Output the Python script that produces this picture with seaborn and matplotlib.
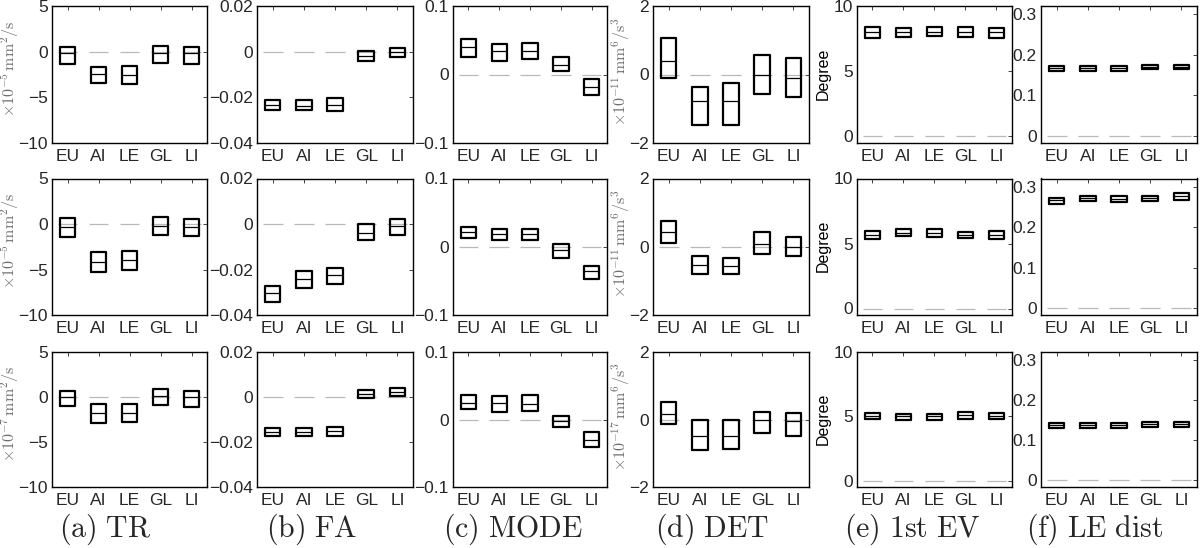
import numpy as np
import pandas as pd
import matplotlib
matplotlib.use("Agg")
import matplotlib.pyplot as plt
import seaborn as sns

# ---------------------------------------------------------
# Data: upper quartile / median /
# lower quartile, one list per row (3 rows x 5 methods)
# ---------------------------------------------------------
METHODS = ["EU", "AI", "LE", "GL", "LI"]

TR_HI = [[0.55, -1.65, -1.6, 0.65, 0.5],
         [0.7, -3.1, -2.95, 0.8, 0.6],
         [0.7, -0.8, -0.8, 0.85, 0.7]]
TR_MED = [[-0.2, -2.45, -2.5, -0.1, -0.2],
          [-0.3, -4.15, -3.95, -0.2, -0.3],
          [0.0, -1.8, -1.8, 0.1, 0.0]]
TR_LO = [[-1.35, -3.45, -3.5, -1.2, -1.35],
         [-1.4, -5.3, -5.05, -1.2, -1.3],
         [-1.0, -2.9, -2.8, -0.9, -1.1]]

FA_HI = [[-0.021, -0.021, -0.0205, 0.0004, 0.0015],
         [-0.0273, -0.0205, -0.0192, 0.0, 0.002],
         [-0.0139, -0.0139, -0.0134, 0.0031, 0.0041]]
FA_MED = [[-0.0235, -0.0238, -0.0235, -0.0019, 0.0],
          [-0.0302, -0.0243, -0.0224, -0.0038, -0.0007],
          [-0.0156, -0.0156, -0.0153, 0.0012, 0.0023]]
FA_LO = [[-0.0255, -0.0255, -0.0258, -0.0039, -0.0022],
         [-0.0343, -0.0283, -0.0265, -0.007, -0.0048],
         [-0.0174, -0.0174, -0.0174, -0.0006, 0.0004]]

MODE_HI = [[0.052, 0.0445, 0.0455, 0.025, -0.0066],
           [0.029, 0.026, 0.026, 0.004, -0.028],
           [0.0358, 0.0343, 0.0358, 0.0054, -0.019]]
MODE_MED = [[0.0406, 0.034, 0.0348, 0.0139, -0.0178],
            [0.0216, 0.0186, 0.0186, -0.0044, -0.036],
            [0.025, 0.025, 0.0235, -0.0025, -0.030]]
MODE_LO = [[0.026, 0.02, 0.0222, 0.005, -0.0304],
           [0.0127, 0.0093, 0.0093, -0.0167, -0.047],
           [0.0152, 0.0113, 0.0127, -0.0118, -0.041]]

DET_HI = [[1.06, -0.37, -0.26, 0.57, 0.47],
          [0.745, -0.265, -0.33, 0.43, 0.3],
          [0.52, 0.0, 0.0, 0.23, 0.2]]
DET_MED = [[0.40, -0.77, -0.77, 0.0, -0.11],
           [0.43, -0.53, -0.56, 0.08, -0.02],
           [0.15, -0.49, -0.49, -0.02, -0.04]]
DET_LO = [[-0.11, -1.48, -1.48, -0.58, -0.65],
          [0.108, -0.80, -0.80, -0.2, -0.265],
          [-0.12, -0.9, -0.88, -0.41, -0.48]]

EV_HI = [[8.37, 8.29, 8.37, 8.37, 8.3],
         [5.96, 6.15, 6.15, 5.87, 5.96],
         [5.24, 5.19, 5.19, 5.32, 5.27]]
EV_MED = [[7.98, 7.98, 8.03, 8.03, 7.98],
          [5.68, 5.82, 5.82, 5.68, 5.68],
          [5.05, 5.0, 5.0, 5.08, 5.05]]
EV_LO = [[7.52, 7.6, 7.7, 7.65, 7.52],
         [5.38, 5.55, 5.49, 5.41, 5.38],
         [4.81, 4.73, 4.73, 4.81, 4.81]]

LED_HI = [[0.173, 0.173, 0.173, 0.175, 0.175],
          [0.272, 0.278, 0.278, 0.278, 0.284],
          [0.143, 0.143, 0.143, 0.145, 0.145]]
LED_MED = [[0.167, 0.167, 0.167, 0.17, 0.17],
           [0.266, 0.272, 0.27, 0.272, 0.277],
           [0.138, 0.138, 0.138, 0.14, 0.14]]
LED_LO = [[0.16, 0.161, 0.161, 0.165, 0.165],
          [0.258, 0.264, 0.262, 0.264, 0.267],
          [0.131, 0.131, 0.131, 0.134, 0.134]]

CAPTIONS = ["(a)\\ TR", "(b)\\ FA", "(c)\\ MODE", "(d)\\ DET",
            "(e)\\ 1st\\ EV", "(f)\\ LE\\ dist"]

YTICKS = [[-10, -5, 0, 5],
          [-0.04, -0.02, 0, 0.02],
          [-0.1, 0, 0.1],
          [-2, 0, 2],
          [0, 5, 10],
          [0, 0.1, 0.2, 0.3]]
YLIMS = [(-10, 5), (-0.04, 0.02), (-0.1, 0.1), (-2, 2), (-0.5, 10), (-0.017, 0.32)]

TR_UNITS = ["$\\times 10^{-5}\\,\\mathrm{mm}^2/\\mathrm{s}$",
            "$\\times 10^{-5}\\,\\mathrm{mm}^2/\\mathrm{s}$",
            "$\\times 10^{-7}\\,\\mathrm{mm}^2/\\mathrm{s}$"]
DET_UNITS = ["$\\times 10^{-11}\\,\\mathrm{mm}^6/\\mathrm{s}^3$",
             "$\\times 10^{-11}\\,\\mathrm{mm}^6/\\mathrm{s}^3$",
             "$\\times 10^{-17}\\,\\mathrm{mm}^6/\\mathrm{s}^3$"]

PANELS = [(TR_LO, TR_MED, TR_HI), (FA_LO, FA_MED, FA_HI),
          (MODE_LO, MODE_MED, MODE_HI), (DET_LO, DET_MED, DET_HI),
          (EV_LO, EV_MED, EV_HI), (LED_LO, LED_MED, LED_HI)]

# layout in pixels of the 1200x548 picture
W, H = 1200, 548
COL_X = [(52, 207), (257, 413), (453, 607), (653, 809), (857, 1012), (1041, 1197)]
ROW_Y = [(6, 143), (178.5, 315), (352, 487)]
CAPTION_X = [105, 312, 513, 712, 912, 1095]


def box_frame(lo, med, hi):
    # five values whose quartiles/median equal the read box statistics
    rows = []
    for m, a, b, c in zip(METHODS, lo, med, hi):
        for v in (a, a, b, c, c):
            rows.append((m, v))
    return pd.DataFrame(rows, columns=["method", "value"])


def fmt(v):
    return f"{v:g}".replace("-", "\u2212")


sns.set_style("white", {"xtick.direction": "in", "ytick.direction": "in",
                        "axes.edgecolor": "black"})
plt.rcParams["font.family"] = ["Liberation Sans", "DejaVu Sans"]
plt.rcParams["mathtext.fontset"] = "cm"

fig = plt.figure(figsize=(W / 100, H / 100), dpi=100)
pos = np.arange(len(METHODS))

for r, (y0, y1) in enumerate(ROW_Y):
    for c, (x0, x1) in enumerate(COL_X):
        ax = fig.add_axes([x0 / W, 1 - y1 / H, (x1 - x0) / W, (y1 - y0) / H])
        lo, med, hi = (s[r] for s in PANELS[c])
        df = box_frame(lo, med, hi)

        sns.boxplot(data=df, x="method", y="value", order=METHODS, ax=ax,
                    fill=False, color="black", width=0.5, linewidth=1.6,
                    whis=0, showcaps=False, showfliers=False,
                    medianprops=dict(linewidth=0.9),
                    whiskerprops=dict(linewidth=0))

        # grey reference dashes at zero
        ax.hlines(np.zeros(len(pos)), pos - 0.32, pos + 0.32,
                  colors="#b8b8b8", linewidth=0.9, zorder=0.5)

        ax.set_xlim(-0.5, len(METHODS) - 0.5)
        ax.set_ylim(*YLIMS[c])
        ax.set_yticks(YTICKS[c])
        ax.set_yticklabels([fmt(v) for v in YTICKS[c]])
        ax.set_xlabel("")
        ax.set_ylabel("")
        ax.tick_params(axis="x", labelsize=12.5, pad=4, length=3, top=True, width=0.6)
        ax.tick_params(axis="y", labelsize=12.5, pad=3, length=3, right=True, width=0.6)
        for sp in ax.spines.values():
            sp.set_linewidth(1.0)
            sp.set_color("black")

        yc = (y0 + y1) / 2
        if c == 0:
            fig.text(10 / W, 1 - (yc - 6) / H, TR_UNITS[r], rotation=90,
                     ha="center", va="center", fontsize=11.5, color="#6e6e6e")
        elif c == 3:
            fig.text(621 / W, 1 - (yc - 3) / H, DET_UNITS[r], rotation=90,
                     ha="center", va="center", fontsize=11.5, color="#6e6e6e")
        elif c == 4:
            fig.text(823 / W, 1 - (yc - 1) / H, "Degree", rotation=90,
                     ha="center", va="center", fontsize=11.5, color="black")

for c, cap in enumerate(CAPTIONS):
    fig.text(CAPTION_X[c] / W, 1 - 537 / H, "$\\mathrm{" + cap + "}$",
             ha="center", va="baseline", fontsize=21.5)

fig.savefig("out.png", dpi=100)
plt.close(fig)
